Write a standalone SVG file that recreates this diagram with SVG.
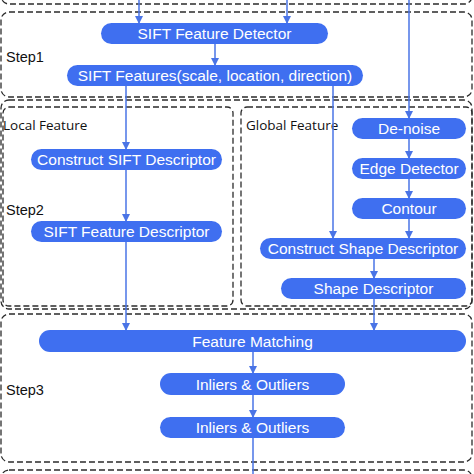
<svg xmlns="http://www.w3.org/2000/svg" width="474" height="474" viewBox="0 0 474 474">
<defs>
<marker id="ah" markerWidth="8" markerHeight="8" refX="7" refY="4" orient="auto" markerUnits="userSpaceOnUse">
<path d="M0,0 L8,4 L0,8 Z" fill="#4a74e6"/>
</marker>
<style>
.grp{fill:none;stroke:#2b2b2b;stroke-width:1.3;stroke-dasharray:6 3}
.nd{fill:#3f6ff0}
.nt{font-family:"Liberation Sans",Arial,sans-serif;font-size:15.5px;fill:#ffffff;text-anchor:middle}
.st{font-family:"Liberation Sans",Arial,sans-serif;font-size:14.5px;fill:#111111}
.gt{font-family:"Open Sans","Noto Sans",sans-serif;font-size:13.5px;fill:#111111}
.cn{stroke:#4a74e6;stroke-width:1.5;fill:none}
</style>
</defs>
<rect width="474" height="474" fill="#ffffff"/>
<g id="groups">
<rect class="grp" x="1" y="-20" width="471" height="24" rx="8"/>
<rect class="grp" x="1" y="12" width="471" height="85" rx="8"/>
<rect class="grp" x="1" y="100" width="471" height="209" rx="8"/>
<rect class="grp" x="3" y="107" width="230" height="199" rx="6"/>
<rect class="grp" x="241" y="107" width="231" height="199" rx="6"/>
<rect class="grp" x="1" y="314" width="471" height="148" rx="8"/>
<rect class="grp" x="1" y="470" width="471" height="30" rx="8"/>
<text class="st" x="6" y="62">Step1</text>
<text class="st" x="6" y="215">Step2</text>
<text class="st" x="6" y="395">Step3</text>
<text class="gt" x="3" y="130">Local Feature</text>
<text class="gt" x="246" y="130">Global Feature</text>
</g>
<g id="connectors">
<path class="cn" d="M139,0 V23" marker-end="url(#ah)"/>
<path class="cn" d="M287,0 V23" marker-end="url(#ah)"/>
<path class="cn" d="M409,0 V118" marker-end="url(#ah)"/>
<path class="cn" d="M215,44 V65" marker-end="url(#ah)"/>
<path class="cn" d="M126,86 V149" marker-end="url(#ah)"/>
<path class="cn" d="M333,86 V238" marker-end="url(#ah)"/>
<path class="cn" d="M126,170 V221" marker-end="url(#ah)"/>
<path class="cn" d="M126,242 V330" marker-end="url(#ah)"/>
<path class="cn" d="M409,139 V158" marker-end="url(#ah)"/>
<path class="cn" d="M409,179 V198" marker-end="url(#ah)"/>
<path class="cn" d="M409,219 V238" marker-end="url(#ah)"/>
<path class="cn" d="M374,259 V278" marker-end="url(#ah)"/>
<path class="cn" d="M374,299 V330" marker-end="url(#ah)"/>
<path class="cn" d="M253,352 V373" marker-end="url(#ah)"/>
<path class="cn" d="M253,395 V417" marker-end="url(#ah)"/>
<path class="cn" d="M253,438 V474"/>
</g>
<g id="n-detector"><rect class="nd" x="101" y="23" width="227" height="21" rx="10.5"/><text class="nt" x="214.5" y="39">SIFT Feature Detector</text></g>
<g id="n-features"><rect class="nd" x="67" y="65" width="296" height="21" rx="10.5"/><text class="nt" x="215" y="81">SIFT Features(scale, location, direction)</text></g>
<g id="n-csift"><rect class="nd" x="31" y="149" width="191" height="21" rx="10.5"/><text class="nt" x="126.5" y="165">Construct SIFT Descriptor</text></g>
<g id="n-sdesc"><rect class="nd" x="31" y="221" width="191" height="21" rx="10.5"/><text class="nt" x="126.5" y="237">SIFT Feature Descriptor</text></g>
<g id="n-denoise"><rect class="nd" x="352" y="118" width="114" height="21" rx="10.5"/><text class="nt" x="409" y="134">De-noise</text></g>
<g id="n-edge"><rect class="nd" x="352" y="158" width="114" height="21" rx="10.5"/><text class="nt" x="409" y="174">Edge Detector</text></g>
<g id="n-contour"><rect class="nd" x="352" y="198" width="114" height="21" rx="10.5"/><text class="nt" x="409" y="214">Contour</text></g>
<g id="n-cshape"><rect class="nd" x="260" y="238" width="206" height="21" rx="10.5"/><text class="nt" x="363" y="254">Construct Shape Descriptor</text></g>
<g id="n-shape"><rect class="nd" x="281" y="278" width="185" height="21" rx="10.5"/><text class="nt" x="373.5" y="294">Shape Descriptor</text></g>
<g id="n-match"><rect class="nd" x="39" y="330" width="427" height="22" rx="11"/><text class="nt" x="252.5" y="346.5">Feature Matching</text></g>
<g id="n-in1"><rect class="nd" x="160" y="373" width="185" height="22" rx="11"/><text class="nt" x="252.5" y="389.5">Inliers &amp; Outliers</text></g>
<g id="n-in2"><rect class="nd" x="160" y="417" width="185" height="21" rx="10.5"/><text class="nt" x="252.5" y="433">Inliers &amp; Outliers</text></g>
</svg>
